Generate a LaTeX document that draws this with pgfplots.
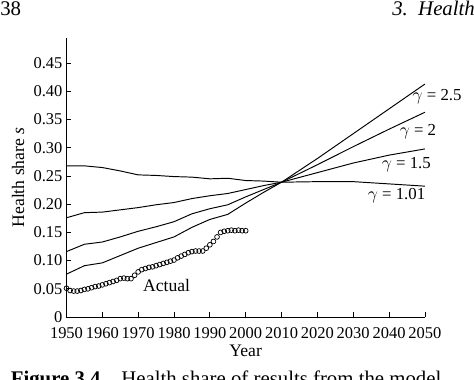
\documentclass[border=0pt]{standalone}
\usepackage{pgfplots}
\pgfplotsset{compat=1.18}
\usepackage{fontspec}
\setmainfont{Liberation Serif}
\begin{document}
\begin{tikzpicture}
\useasboundingbox (-41.56pt,-38.75pt) rectangle (254.69pt,198.13pt);
\begin{axis}[
  width=224pt, height=174.5pt, scale only axis,
  xmin=1950, xmax=2050, ymin=0, ymax=0.495,
  axis lines=left, axis line style={-, line width=0.5pt},
  tick align=inside, major tick length=3pt,
  tick style={line width=0.5pt, black},
  xtick={1950,1960,...,2050},
  ytick={0,0.05,0.10,0.15,0.20,0.25,0.30,0.35,0.40,0.45},
  yticklabels={0,0.05,0.10,0.15,0.20,0.25,0.30,0.35,0.40,0.45},
  x tick label style={/pgf/number format/1000 sep={}, yshift=-3pt},
  y tick label style={xshift=1pt},
  /pgf/number format/assume math mode=true,
  tick label style={font=\fontsize{10.3}{12}\selectfont},
  xlabel={Year}, ylabel={Health share \textit{s}},
  label style={font=\fontsize{11}{13}\selectfont},
  xlabel style={yshift=3pt},
  ylabel style={yshift=-1pt},
  clip=false,
]
% gamma = 1.01
\addplot[black, line width=0.6pt] coordinates {
(1950,0.268)(1955,0.268)(1960,0.265)(1965,0.259)(1970,0.252)(1975,0.251)(1980,0.249)(1985,0.248)(1990,0.245)(1995,0.246)(2000,0.242)(2005,0.241)(2010,0.239)(2020,0.240)(2030,0.240)(2040,0.236)(2050,0.232)};
% gamma = 1.5
\addplot[black, line width=0.6pt] coordinates {
(1950,0.176)(1955,0.185)(1960,0.186)(1965,0.190)(1970,0.194)(1975,0.199)(1980,0.203)(1985,0.210)(1990,0.215)(1995,0.219)(2000,0.226)(2005,0.233)(2010,0.239)(2020,0.256)(2030,0.273)(2040,0.287)(2050,0.298)};
% gamma = 2
\addplot[black, line width=0.6pt] coordinates {
(1950,0.116)(1955,0.129)(1960,0.133)(1965,0.142)(1970,0.152)(1975,0.160)(1980,0.169)(1985,0.183)(1990,0.192)(1995,0.199)(2000,0.213)(2005,0.226)(2010,0.239)(2020,0.270)(2030,0.302)(2040,0.333)(2050,0.363)};
% gamma = 2.5
\addplot[black, line width=0.6pt] coordinates {
(1950,0.076)(1955,0.091)(1960,0.096)(1965,0.109)(1970,0.122)(1975,0.132)(1980,0.142)(1985,0.159)(1990,0.173)(1995,0.182)(2000,0.202)(2005,0.221)(2010,0.239)(2020,0.281)(2030,0.325)(2040,0.369)(2050,0.413)};
% Actual
\addplot[only marks, mark=o, mark size=1.5pt, black, mark options={line width=0.45pt}] coordinates {
(1950,0.051)(1951,0.047)(1952,0.046)(1953,0.046)(1954,0.047)(1955,0.049)(1956,0.050)(1957,0.052)(1958,0.054)(1959,0.055)
(1960,0.057)(1961,0.059)(1962,0.061)(1963,0.063)(1964,0.065)(1965,0.068)(1966,0.069)(1967,0.068)(1968,0.068)(1969,0.074)
(1970,0.080)(1971,0.084)(1972,0.086)(1973,0.088)(1974,0.089)(1975,0.091)(1976,0.093)(1977,0.095)(1978,0.097)(1979,0.099)
(1980,0.101)(1981,0.105)(1982,0.108)(1983,0.111)(1984,0.114)(1985,0.116)(1986,0.117)(1987,0.117)(1988,0.117)(1989,0.122)
(1990,0.128)(1991,0.134)(1992,0.142)(1993,0.150)(1994,0.152)(1995,0.153)(1996,0.154)(1997,0.153)(1998,0.154)(1999,0.153)(2000,0.153)};
\node[anchor=west, inner sep=0pt, font=\fontsize{10.5}{12}\selectfont] at (axis cs:2046.5,0.391) {$\gamma$ = 2.5};
\node[anchor=west, inner sep=0pt, font=\fontsize{10.5}{12}\selectfont] at (axis cs:2042.9,0.329) {$\gamma$ = 2};
\node[anchor=west, inner sep=0pt, font=\fontsize{10.5}{12}\selectfont] at (axis cs:2037.9,0.271) {$\gamma$ = 1.5};
\node[anchor=west, inner sep=0pt, font=\fontsize{10.5}{12}\selectfont] at (axis cs:2034.0,0.216) {$\gamma$ = 1.01};
\node[anchor=west, inner sep=0pt, font=\fontsize{11}{13}\selectfont] at (axis cs:1971.3,0.0555) {Actual};
\end{axis}
\node[anchor=base west, inner sep=0pt, font=\fontsize{13}{15}\selectfont] at (-41.56pt,188.5pt) {38};
\node[anchor=base west, inner sep=0pt, font=\fontsize{13}{15}\selectfont\itshape] at (203.4pt,188.5pt) {3.\ \ Health};
\node[anchor=base west, inner sep=0pt, font=\fontsize{13}{15}\selectfont] at (-35pt,-43pt) {\textbf{Figure 3.4}\quad Health share of results from the model};
\end{tikzpicture}
\end{document}
